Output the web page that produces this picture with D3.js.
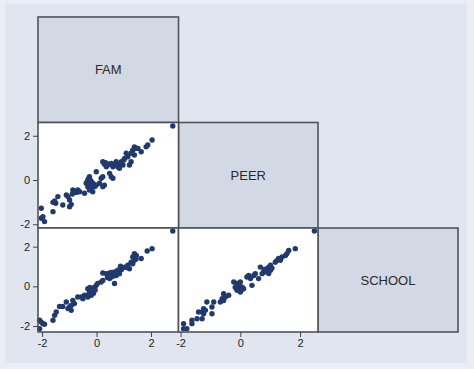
<!DOCTYPE html>
<html>
<head>
<meta charset="utf-8">
<script src="https://cdn.jsdelivr.net/npm/d3@7"></script>
<style>
  html, body { margin: 0; padding: 0; background: #eceef5; }
  svg { display: block; }
</style>
</head>
<body>
<svg id="chart" width="474" height="369"></svg>
<script>
// ---- Data ----
const variables = ["FAM", "PEER", "SCHOOL"];
const tickValues = [-2, 0, 2];

// FAM (x) vs PEER (y)
const famPeer = [
  [2.80, 2.44], [2.04, 1.81], [1.88, 1.58], [1.82, 1.50], [1.64, 1.28], [1.39, 1.50],
  [1.46, 1.43], [1.52, 1.43], [1.33, 1.35], [1.27, 1.21], [1.39, 1.13], [1.09, 1.21],
  [1.15, 1.05], [1.03, 0.98], [1.27, 0.83], [1.21, 0.68], [0.91, 0.83], [0.97, 0.68],
  [0.84, 0.53], [0.78, 0.60], [0.72, 0.83], [0.54, 0.75], [0.60, 0.60], [0.23, 0.83],
  [0.29, 0.71], [0.36, 0.60], [0.41, 0.68], [0.48, 0.30], [0.54, 0.15], [0.60, 0.08],
  [0.23, 0.15], [0.17, 0.08], [-0.01, 0.37], [-0.26, 0.15], [-0.32, 0.00], [-0.19, -0.08],
  [-0.38, -0.15], [-0.26, -0.23], [-0.14, -0.15], [-0.32, -0.30], [-0.19, -0.37], [-0.07, -0.30],
  [-0.01, -0.23], [0.11, -0.15], [-0.28, 0.08], [0.29, -0.23], [0.23, -0.30], [-0.26, -0.45],
  [-0.14, -0.53], [-0.44, -0.60], [-0.69, -0.45], [-0.62, -0.53], [-0.74, -0.56], [-0.87, -0.45],
  [-0.89, -0.63], [-1.11, -0.68], [-1.05, -0.75], [-0.99, -0.90], [-0.93, -1.10], [-0.99, -1.21],
  [-1.42, -0.75], [-1.54, -0.95], [-1.60, -1.01], [-1.50, -1.05], [-1.24, -1.13], [-1.60, -1.43],
  [-2.03, -1.28], [-1.97, -1.66], [-2.03, -1.73], [-1.91, -1.88], [0.33, 0.78], [0.45, 0.72],
  [0.66, 0.70], [0.85, 0.74], [1.00, 0.90], [-0.22, -0.02], [-0.10, -0.20], [-0.35, -0.10]
];

// FAM (x) vs SCHOOL (y)
const famSchool = [
  [2.80, 2.79], [2.04, 1.90], [1.86, 1.78], [1.39, 1.65], [1.46, 1.56], [1.33, 1.48],
  [1.64, 1.40], [1.39, 1.31], [1.27, 1.22], [1.33, 1.14], [1.15, 1.06], [1.03, 0.97],
  [1.21, 0.89], [0.91, 0.84], [0.78, 0.81], [0.84, 0.64], [0.72, 0.55], [0.66, 0.72],
  [0.60, 0.60], [0.48, 0.67], [0.41, 0.55], [0.54, 0.47], [0.48, 0.39], [0.36, 0.64],
  [0.23, 0.67], [0.66, 0.14], [0.17, 0.22], [0.23, 0.30], [-0.01, 0.05], [-0.07, -0.04],
  [-0.14, -0.12], [-0.19, -0.20], [-0.14, -0.29], [-0.26, -0.29], [-0.32, -0.12], [-0.19, -0.45],
  [-0.32, -0.54], [-0.44, -0.45], [-0.50, -0.62], [-0.56, -0.54], [-0.69, -0.54], [-0.87, -0.71],
  [-0.81, -0.87], [-0.93, -0.96], [-0.99, -1.04], [-1.11, -0.79], [-0.93, -1.21], [-1.05, -1.12],
  [-1.24, -1.01], [-1.36, -1.01], [-1.48, -1.29], [-1.54, -1.46], [-1.60, -1.71], [-2.09, -1.71],
  [-2.03, -1.80], [-1.97, -1.88], [-1.91, -1.91], [-2.09, -2.13], [-0.11, -0.35], [0.04, 0.15],
  [0.88, 1.01], [0.55, 0.70], [0.70, 0.65], [0.62, 0.52], [0.40, 0.45], [-0.24, -0.05],
  [-0.05, -0.18], [-0.28, -0.40], [1.10, 0.95], [1.45, 1.38]
];

// PEER (x) vs SCHOOL (y)
const peerSchool = [
  [2.48, 2.79], [1.84, 1.90], [1.62, 1.81], [1.56, 1.65], [1.51, 1.56], [1.28, 1.40],
  [1.23, 1.31], [1.17, 1.22], [1.34, 1.31], [1.01, 1.06], [0.95, 0.97], [0.89, 0.89],
  [0.84, 0.81], [0.78, 0.72], [0.73, 0.64], [0.89, 0.72], [1.01, 0.81], [0.67, 0.97],
  [0.61, 0.39], [0.50, 0.64], [0.28, 0.55], [0.22, 0.47], [0.34, 0.39], [0.39, 0.05],
  [0.00, 0.22], [-0.11, 0.14], [-0.17, -0.04], [-0.06, -0.12], [0.00, -0.29], [-0.11, -0.20],
  [0.06, -0.04], [0.11, -0.12], [-0.22, 0.22], [-0.39, -0.45], [-0.50, -0.54], [-0.56, -0.37],
  [-0.61, -0.62], [-0.67, -0.79], [-0.56, -0.71], [-0.89, -0.79], [-0.95, -1.04], [-1.12, -0.79],
  [-1.17, -1.21], [-1.23, -1.12], [-0.95, -1.38], [-1.28, -1.29], [-1.23, -1.38], [-1.40, -1.29],
  [-1.45, -1.63], [-1.28, -1.63], [-1.62, -1.71], [-1.90, -1.88], [-1.62, -1.88], [-1.79, -2.13],
  [-1.90, -2.13], [0.92, 0.80], [0.80, 0.85], [0.95, 0.65], [1.06, 0.92], [-0.03, 0.02],
  [-0.14, -0.08], [0.04, -0.18], [-0.08, 0.05], [0.45, 0.55], [1.40, 1.48]
];

// axis extents per variable
const famRange = [-2.15, 3.01];
const peerXRange = [-2.07, 2.6];
const peerYRange = [-2.17, 2.6];
const schoolRange = [-2.3, 2.94];

// ---- Layout ----
const colX = [38, 178.5, 318, 458];
const rowY = [17, 122.5, 228, 332];

const svg = d3.select("#chart");
const font = "'Liberation Sans', Arial, sans-serif";
const markerColor = "#213a6e";
const borderColor = "#50535c";

svg.append("rect").attr("x", 5).attr("y", 4).attr("width", 462).attr("height", 359)
  .attr("fill", "#e1e5ef");

const xScales = [
  d3.scaleLinear().domain(famRange).range([colX[0], colX[1]]),
  d3.scaleLinear().domain(peerXRange).range([colX[1], colX[2]])
];
const yScales = [
  null,
  d3.scaleLinear().domain(peerYRange).range([rowY[2], rowY[1]]),
  d3.scaleLinear().domain(schoolRange).range([rowY[3], rowY[2]])
];

// diagonal label cells
variables.forEach((v, i) => {
  svg.append("rect")
    .attr("x", colX[i]).attr("y", rowY[i])
    .attr("width", colX[i + 1] - colX[i]).attr("height", rowY[i + 1] - rowY[i])
    .attr("fill", "#d3d9e4").attr("stroke", borderColor).attr("stroke-width", 1.6);
  svg.append("text")
    .attr("x", (colX[i] + colX[i + 1]) / 2)
    .attr("y", (rowY[i] + rowY[i + 1]) / 2)
    .attr("text-anchor", "middle").attr("dominant-baseline", "central")
    .attr("font-family", font).attr("font-size", 13).attr("fill", "#2a2a2a")
    .text(v);
});

// scatter cells
const cells = [
  { row: 1, col: 0, data: famPeer },
  { row: 2, col: 0, data: famSchool },
  { row: 2, col: 1, data: peerSchool }
];

cells.forEach(c => {
  const x = xScales[c.col], y = yScales[c.row];
  svg.append("rect")
    .attr("x", colX[c.col]).attr("y", rowY[c.row])
    .attr("width", colX[c.col + 1] - colX[c.col]).attr("height", rowY[c.row + 1] - rowY[c.row])
    .attr("fill", "#ffffff");
  svg.append("g").selectAll("circle").data(c.data).join("circle")
    .attr("cx", d => x(d[0])).attr("cy", d => y(d[1]))
    .attr("r", 2.7).attr("fill", markerColor);
  svg.append("rect")
    .attr("x", colX[c.col]).attr("y", rowY[c.row])
    .attr("width", colX[c.col + 1] - colX[c.col]).attr("height", rowY[c.row + 1] - rowY[c.row])
    .attr("fill", "none").attr("stroke", borderColor).attr("stroke-width", 1.6);
});

function styleAxis(g) {
  g.select(".domain").remove();
  g.selectAll(".tick line").attr("stroke", "#444");
  g.selectAll(".tick text").attr("font-family", font).attr("font-size", 11).attr("fill", "#222");
}

// left axes (rows 1,2)
[1, 2].forEach(r => {
  svg.append("g").attr("transform", `translate(${colX[0]},0)`)
    .call(d3.axisLeft(yScales[r]).tickValues(tickValues).tickSize(5).tickPadding(3)
      .tickFormat(d => String(d)))
    .call(styleAxis);
});

// bottom axes (cols 0,1)
[0, 1].forEach(c => {
  svg.append("g").attr("transform", `translate(0,${rowY[3]})`)
    .call(d3.axisBottom(xScales[c]).tickValues(tickValues).tickSize(5).tickPadding(2)
      .tickFormat(d => String(d)))
    .call(styleAxis);
});
</script>
</body>
</html>
